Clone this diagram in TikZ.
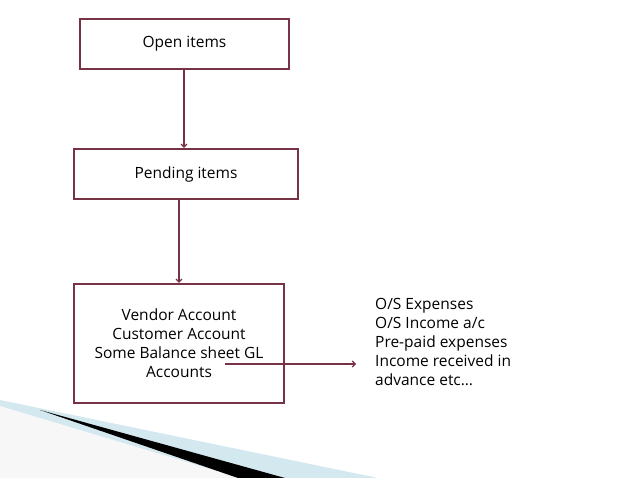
\documentclass[tikz,border=0pt]{standalone}
\usepackage{fontspec}
\setmainfont{Open Sans}
\usetikzlibrary{arrows.meta}
\definecolor{bx}{RGB}{120,50,70}
\definecolor{lb}{RGB}{212,232,240}
\begin{document}
\begin{tikzpicture}[x=1pt,y=-1pt,
  box/.style={draw=bx,line width=2.2pt,fill=white,align=center,inner sep=0pt,font=\fontsize{15.5}{19}\selectfont},
  arr/.style={draw=bx,line width=1.2pt,-{Straight Barb[length=3pt,width=6pt]}}]
\useasboundingbox (0,0) rectangle (638,478);
\fill[lb] (0,400) -- (378,478) -- (0,478) -- cycle;
\fill[gray!6] (0,406) -- (240,478) -- (0,478) -- cycle;
\fill[black] (40,410) -- (285,478) -- (238,478) -- cycle;
\node[box,minimum width=209pt,minimum height=50pt] (a) at (184.5,44) {Open items};
\node[box,minimum width=224pt,minimum height=50pt] (b) at (186,174) {Pending items};
\node[box,minimum width=210pt,minimum height=119pt] (c) at (179,343.5) {Vendor Account\\Customer Account\\Some Balance sheet GL\\Accounts};
\node[align=left,anchor=north west,inner sep=0pt,font=\fontsize{15.5}{19}\selectfont] (t) at (375,298) {O/S Expenses\\O/S Income a/c\\Pre-paid expenses\\Income received in\\advance etc\dots};
\coordinate (s) at (225,364);
\coordinate (e) at (356,364);
\draw[arr] (a.south -| 184,0) -- (b.north -| 184,0);
\draw[arr] (b.south -| 179,0) -- (c.north -| 179,0);
\draw[arr] (s) -- (e);
\end{tikzpicture}
\end{document}
